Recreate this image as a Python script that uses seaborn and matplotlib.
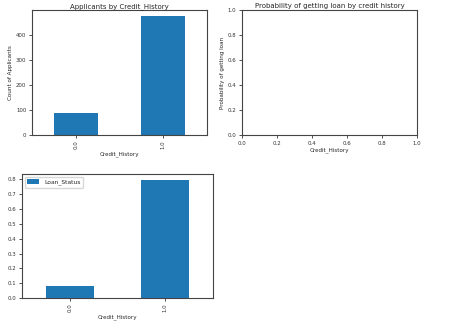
import matplotlib
matplotlib.use("Agg")
import matplotlib.pyplot as plt
from matplotlib.ticker import MultipleLocator
import seaborn as sns
import pandas as pd

credit_history = ["0.0", "1.0"]
applicant_counts = [89, 475]
loan_probability = [0.0787, 0.7958]

sns.set_style("white")
plt.rcParams["font.family"] = ["DejaVu Sans"]
plt.rcParams["axes.edgecolor"] = "#444444"
plt.rcParams["axes.linewidth"] = 0.8

blue = "#1f77b4"
fig = plt.figure(figsize=(4.74, 3.22), dpi=100)

df1 = pd.DataFrame({"Credit_History": credit_history, "Count": applicant_counts})
df2 = pd.DataFrame({"Credit_History": credit_history, "Loan_Status": loan_probability})

TITLE, LABEL, TICK, LEG = 5.0, 4.1, 3.9, 4.3

ax1 = fig.add_axes([0.0675, 0.5807, 0.369, 0.388])
sns.barplot(data=df1, x="Credit_History", y="Count", order=credit_history,
            color=blue, width=0.5, saturation=1, linewidth=0, ax=ax1)
ax1.set_ylim(0, 499)
ax1.set_title("Applicants by Credit_History", fontsize=TITLE, pad=1.5)
ax1.set_xlabel("Credit_History", fontsize=LABEL, labelpad=1.5)
ax1.set_ylabel("Count of Applicants", fontsize=LABEL, labelpad=2)

ax2 = fig.add_axes([0.5105, 0.5807, 0.369, 0.388])
ax2.set_xlim(0, 1)
ax2.set_ylim(0, 1)
ax2.set_title("Probability of getting loan by credit history", fontsize=TITLE, pad=1.5)
ax2.set_xlabel("Credit_History", fontsize=LABEL, labelpad=1.5)
ax2.set_ylabel("Probability of getting loan", fontsize=LABEL, labelpad=2)

ax3 = fig.add_axes([0.0464, 0.0745, 0.403, 0.385])
sns.barplot(data=df2, x="Credit_History", y="Loan_Status", order=credit_history,
            color=blue, width=0.5, saturation=1, linewidth=0, ax=ax3,
            label="Loan_Status")
ax3.set_ylim(0, 0.836)
ax3.yaxis.set_major_locator(MultipleLocator(0.1))
ax3.set_xlabel("Credit_History", fontsize=LABEL, labelpad=1.5)
ax3.set_ylabel("")
ax3.legend(loc="upper left", fontsize=LEG, frameon=True, handlelength=2.0,
           borderpad=0.4)

for ax in (ax1, ax2, ax3):
    for s in ax.spines.values():
        s.set_visible(True)
    ax.tick_params(axis="both", labelsize=TICK, length=2.5, width=0.6, pad=1.5,
                   left=True, bottom=True, colors="#333333")
for ax in (ax1, ax3):
    ax.tick_params(axis="x", labelrotation=90)

fig.savefig("out.png", dpi=100)
